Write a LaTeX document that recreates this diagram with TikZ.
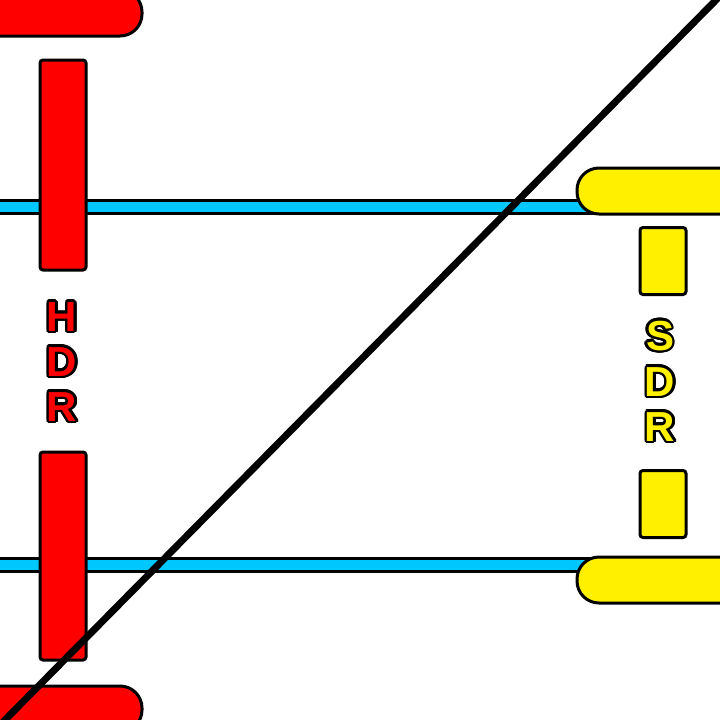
\documentclass[tikz,border=0pt]{standalone}
\usepackage{fontspec}
\setmainfont{Liberation Sans}
\usepackage{contour}
\contourlength{2.6pt}
\definecolor{hred}{RGB}{255,0,0}
\definecolor{syel}{RGB}{255,240,0}
\definecolor{sblue}{RGB}{0,200,255}
\begin{document}
\begin{tikzpicture}[x=1pt,y=-1pt,
  bar/.style={line width=3pt,draw=black,rounded corners=3pt},
  lbl/.style={font=\bfseries\fontsize{42}{42}\selectfont,inner sep=0pt}]
\useasboundingbox (0,0) rectangle (720,720);
\clip (0,0) rectangle (720,720);
% blue lines
\draw[line width=3pt,fill=sblue] (-5,200) rectangle (600,213);
\draw[line width=3pt,fill=sblue] (-5,558) rectangle (600,571);
% red
\draw[line width=3pt,fill=hred,rounded corners=22pt] (-40,-10) rectangle (142,36);
\draw[line width=3pt,fill=hred,rounded corners=22pt] (-40,686) rectangle (142,732);
\node[bar,fill=hred,minimum width=46pt,minimum height=210pt,inner sep=0pt] (hv1) at (63,165) {};
\node[bar,fill=hred,minimum width=46pt,minimum height=208pt,inner sep=0pt] (hv2) at (63,556) {};
% yellow
\draw[line width=3pt,fill=syel,rounded corners=22pt] (577,168) rectangle (760,214);
\draw[line width=3pt,fill=syel,rounded corners=22pt] (577,557) rectangle (760,603);
\node[bar,fill=syel,minimum width=46pt,minimum height=67pt,inner sep=0pt] (sv1) at (663,261) {};
\node[bar,fill=syel,minimum width=46pt,minimum height=67pt,inner sep=0pt] (sv2) at (663,504) {};
% labels
\node[lbl] (h) at (62,318) {\contour{black}{\textcolor{hred}{H}}};
\node[lbl] (d) at (62,363) {\contour{black}{\textcolor{hred}{D}}};
\node[lbl] (r) at (62,408) {\contour{black}{\textcolor{hred}{R}}};
\node[lbl] (s) at (660,337) {\contour{black}{\textcolor{syel}{S}}};
\node[lbl] (d2) at (660,383) {\contour{black}{\textcolor{syel}{D}}};
\node[lbl] (r2) at (660,428) {\contour{black}{\textcolor{syel}{R}}};
% diagonal
\coordinate (a) at (3,722);
\coordinate (b) at (718,-2);
\draw[line width=7pt] (a) -- (b);
\end{tikzpicture}
\end{document}
